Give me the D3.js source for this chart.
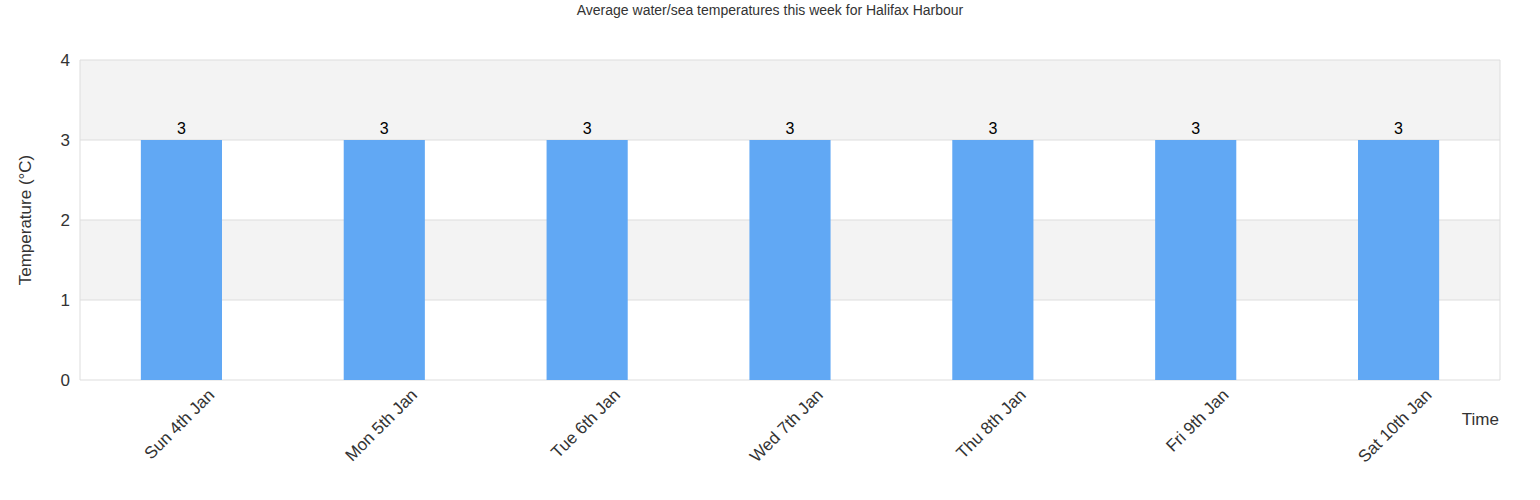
<!DOCTYPE html>
<html><head><meta charset="utf-8">
<script src="https://cdn.jsdelivr.net/npm/d3@7"></script>
<style>body{margin:0;background:#fff;font-family:Arial,"Liberation Sans",sans-serif}</style>
</head><body><svg id="chart" width="1540" height="500"></svg>
<script>
// chart data
var days = ["Sun 4th Jan","Mon 5th Jan","Tue 6th Jan","Wed 7th Jan","Thu 8th Jan","Fri 9th Jan","Sat 10th Jan"];
var temps = [3,3,3,3,3,3,3];
var yTicks = [0,1,2,3,4];

var svg = d3.select("#chart");
var mLeft = 80, mRight = 1500, mTop = 60, mBottom = 380;

var x = d3.scaleBand().domain(days).range([mLeft, mRight]).paddingInner(0.6).paddingOuter(0.3);
var y = d3.scaleLinear().domain([0, 4]).range([mBottom, mTop]);

// alternating bands
svg.selectAll("rect.band")
  .data([[1,2],[3,4]])
  .enter().append("rect")
  .attr("x", mLeft).attr("width", mRight - mLeft)
  .attr("y", function(d){ return y(d[1]); })
  .attr("height", function(d){ return y(d[0]) - y(d[1]); })
  .attr("fill", "#f3f3f3");

// grid
svg.selectAll("line.grid")
  .data(yTicks)
  .enter().append("line")
  .attr("x1", mLeft).attr("x2", mRight)
  .attr("y1", function(d){ return y(d); }).attr("y2", function(d){ return y(d); })
  .attr("stroke", "#dddddd");
svg.append("line").attr("x1", mLeft).attr("x2", mLeft).attr("y1", mTop).attr("y2", mBottom).attr("stroke", "#dddddd");
svg.append("line").attr("x1", mRight).attr("x2", mRight).attr("y1", mTop).attr("y2", mBottom).attr("stroke", "#dddddd");

// bars
svg.selectAll("rect.bar")
  .data(temps)
  .enter().append("rect")
  .attr("x", function(d, i){ return x(days[i]); })
  .attr("width", x.bandwidth())
  .attr("y", function(d){ return y(d); })
  .attr("height", function(d){ return y(0) - y(d); })
  .attr("fill", "#61a8f4");

svg.selectAll("text.val")
  .data(temps)
  .enter().append("text")
  .attr("x", function(d, i){ return x(days[i]) + x.bandwidth()/2; })
  .attr("y", function(d){ return y(d) - 6; })
  .attr("text-anchor", "middle")
  .attr("font-size", 16).attr("fill", "#000")
  .text(function(d){ return d; });

// y tick labels
svg.selectAll("text.ytick")
  .data(yTicks)
  .enter().append("text")
  .attr("x", mLeft - 10)
  .attr("y", function(d){ return y(d) + 6; })
  .attr("text-anchor", "end")
  .attr("font-size", 17).attr("fill", "#333")
  .text(function(d){ return d; });

// x tick labels
svg.selectAll("text.xtick")
  .data(days)
  .enter().append("text")
  .attr("transform", function(d){
    return "translate(" + (x(d) + x.bandwidth()/2 + 34) + "," + (mBottom + 16) + ") rotate(-45)";
  })
  .attr("text-anchor", "end")
  .attr("font-size", 17).attr("fill", "#333")
  .text(function(d){ return d; });

svg.append("text").attr("x", 770).attr("y", 15).attr("text-anchor", "middle")
  .attr("font-size", 14).attr("fill", "#333")
  .text("Average water/sea temperatures this week for Halifax Harbour");

svg.append("text").attr("x", 1499).attr("y", 425).attr("text-anchor", "end")
  .attr("font-size", 17).attr("fill", "#333").text("Time");

svg.append("text").attr("transform", "translate(31,220) rotate(-90)")
  .attr("text-anchor", "middle").attr("font-size", 17).attr("fill", "#333")
  .text("Temperature (°C)");
</script></body></html>
